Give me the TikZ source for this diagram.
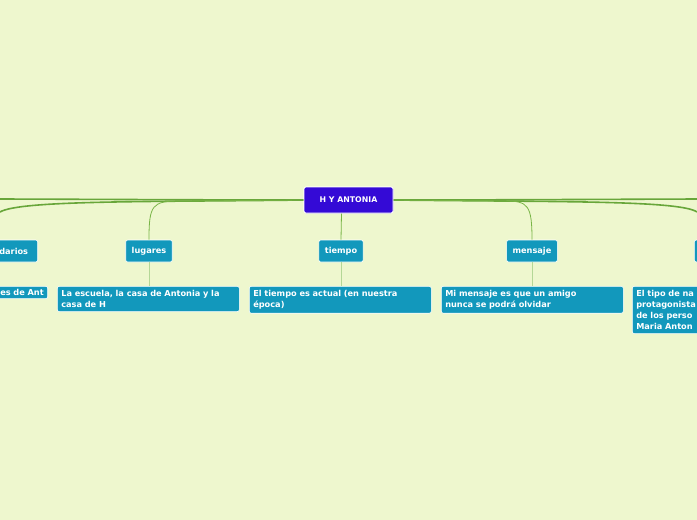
\documentclass[tikz,border=0pt]{standalone}
\usepackage{fontspec}
\setmainfont{DejaVu Sans}
\begin{document}
\begin{tikzpicture}[x=1pt,y=-1pt,
 every node/.style={font=\bfseries\fontsize{8.2}{11}\selectfont},
 rootbox/.style={fill={rgb,255:red,52;green,10;blue,214},draw=white,line width=0.8pt,rounded corners=2pt,text=white,minimum width=89pt,minimum height=26pt,inner sep=2pt},
 topic/.style={fill={rgb,255:red,18;green,152;blue,188},draw=white,line width=0.6pt,rounded corners=2pt,text=white,minimum height=22pt,inner xsep=6pt},
 leaf/.style={fill={rgb,255:red,18;green,152;blue,188},draw=white,line width=0.6pt,rounded corners=2pt,text=white,align=left,text width=174pt,inner xsep=4pt,inner ysep=4pt,anchor=north west},
 main/.style={draw={rgb,255:red,104;green,166;blue,58},line width=1.6pt},
 sub/.style={draw={rgb,255:red,120;green,180;blue,70},line width=0.8pt},
 thin/.style={draw={rgb,255:red,180;green,215;blue,150},line width=0.6pt}]
\fill[fill={rgb,255:red,238;green,247;blue,206}] (0,0) rectangle (697,520);
\useasboundingbox (0,0) rectangle (697,520);
\clip (0,0) rectangle (697,520);
\node[rootbox] (root) at (348.5,200) {\fontsize{7.8}{9}\selectfont H Y ANTONIA};
\node[topic,anchor=east,minimum width=48pt,align=right] (sec) at (38,251) {darios};
\node[topic] (lug) at (149,251) {lugares};
\node[topic] (tie) at (341,251) {tiempo};
\node[topic] (men) at (532,251) {mensaje};
\node[topic,anchor=west,minimum width=40pt] (nar) at (694,251) {};
\node[leaf,anchor=north east,text width=55pt,align=right,inner ysep=3pt] (lsec) at (48,286) {es de Ant};
\node[leaf] (llug) at (57,286) {La escuela, la casa de Antonia y la casa de H};
\node[leaf] (ltie) at (249,286) {El tiempo es actual (en nuestra época)};
\node[leaf] (lmen) at (441,286) {Mi mensaje es que un amigo\\nunca se podrá olvidar};
\node[leaf,text width=60pt] (lnar) at (632,286) {El tipo de na\\protagonista\\de los perso\\Maria Anton};
\draw[main] (root.west) .. controls (200,200) and (40,199) .. (-10,199);
\draw[main] (root.west) .. controls (150,202) and (20,200) .. (0,212);
\draw[main] (root.east) .. controls (500,200) and (660,199) .. (710,199);
\draw[main] (root.east) .. controls (550,202) and (680,200) .. (697,212);
\draw[sub] (root.west) -- (180,201) .. controls (152,201) and (149,205) .. (lug.north);
\draw[sub] (root.east) -- (505,201) .. controls (528,201) and (532,205) .. (men.north);
\draw[sub] (root.south) ++(-7,0) -- (tie.north);
\draw[thin] (lug.south) -- (lug.south |- llug.north);
\draw[thin] (tie.south) -- (tie.south |- ltie.north);
\draw[thin] (men.south) -- (men.south |- lmen.north);
\node[rootbox] at (root) {\fontsize{7.8}{9}\selectfont H Y ANTONIA};
\end{tikzpicture}
\end{document}
